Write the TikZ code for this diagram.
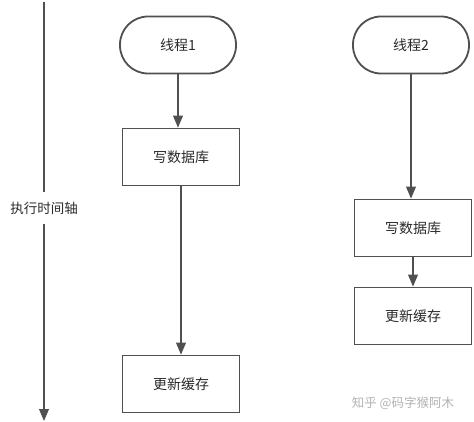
\documentclass[tikz,border=0pt]{standalone}
\usepackage{fontspec}
\setmainfont{Noto Sans CJK SC}
\usepackage{xcolor}
\usetikzlibrary{arrows}
\definecolor{linegray}{HTML}{505050}
\definecolor{textgray}{HTML}{2A2A2A}

\begin{document}
\begin{tikzpicture}[x=1pt,y=-1pt,line width=1.8pt,draw=linegray,
  pill/.style={draw=linegray,rounded corners=28pt,minimum width=116pt,minimum height=57pt,text=textgray,font=\fontsize{14}{16}\selectfont},
  stepbox/.style={draw=linegray,minimum width=117pt,minimum height=57pt,text=textgray,font=\fontsize{14}{16}\selectfont},
  flow/.style={draw=linegray,-triangle 45}]
\useasboundingbox (0,0) rectangle (474,422);

% time axis
\coordinate (axistop) at (44,2);
\coordinate (axisend) at (44,421);
\node[text=textgray,font=\fontsize{13.5}{15}\selectfont,inner sep=2pt,minimum height=30pt] (axis) at (44,208) {执行时间轴};
\draw[linegray] (axistop) -- (axis.north);
\draw[flow] (axis.south) -- (axisend);

% thread 1
\node[pill] (t1) at (178,45) {线程1};
\node[stepbox] (w1) at (181,157) {写数据库};
\node[stepbox] (c1) at (181,384) {更新缓存};
\draw[flow] (t1.south) -- (t1.south |- w1.north);
\draw[flow] (w1.south) -- (c1.north);

% thread 2
\node[pill] (t2) at (411,45) {线程2};
\node[stepbox] (w2) at (413,228) {写数据库};
\node[stepbox] (c2) at (413,316) {更新缓存};
\draw[flow] (t2.south) -- (t2.south |- w2.north);
\draw[flow] (w2.south) -- (c2.north);

\node[text=black!30,font=\fontsize{12.5}{14}\selectfont] (mark) at (403,403) {知乎 @码字猴阿木};
\end{tikzpicture}
\end{document}
